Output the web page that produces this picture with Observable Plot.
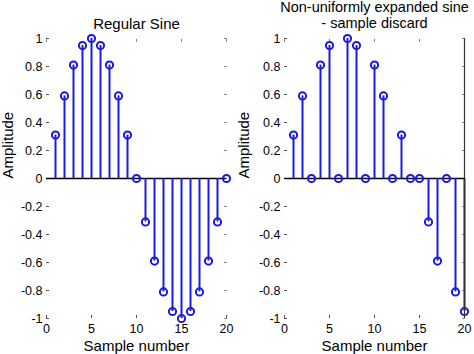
<!DOCTYPE html>
<html>
<head>
<meta charset="utf-8">
<script src="https://cdn.jsdelivr.net/npm/d3@7"></script>
<script src="https://cdn.jsdelivr.net/npm/@observablehq/plot@0.6"></script>
<style>
  html, body { margin: 0; padding: 0; background: #fff; }
  #wrap { position: relative; width: 474px; height: 354px; overflow: hidden; }
  #wrap > svg { position: absolute; top: 0; }
</style>
</head>
<body>
<div id="wrap"></div>
<script>
const sampleNumbers = [1,2,3,4,5,6,7,8,9,10,11,12,13,14,15,16,17,18,19,20];
const regularSine = [0.31,0.59,0.81,0.95,1,0.95,0.81,0.59,0.31,0,-0.31,-0.59,-0.81,-0.95,-1,-0.95,-0.81,-0.59,-0.31,0];
const expandedSine = [0.31,0.59,0,0.81,0.95,0,1,0.95,0,0.81,0.59,0,0.31,0,0,-0.31,-0.59,0,-0.81,-0.95];
const xTicks = [0,5,10,15,20];
const xTickLabels = ["0","5","10","15","20"];
const yTicks = [-1,-0.8,-0.6,-0.4,-0.2,0,0.2,0.4,0.6,0.8,1];
const yTickLabels = ["-1","-0.8","-0.6","-0.4","-0.2","0","0.2","0.4","0.6","0.8","1"];
const titles = ["Regular Sine", "Non-uniformly expanded sine\n- sample discard"];
const xLabel = "Sample number";
const yLabel = "Amplitude";

const blue = "#1a1ae0";

function panel(values, title, opts) {
  const data = sampleNumbers.map((n, i) => ({n, v: values[i]}));
  const marks = [
    Plot.axisY({anchor: "left", ticks: yTicks, tickSize: 0, tickPadding: 4,
      tickFormat: d => yTickLabels[yTicks.indexOf(d)], label: null, fontSize: 12.5}),
    Plot.axisY({anchor: "left", ticks: yTicks, tickSize: -3, tickFormat: () => "", label: null, stroke: "#555"}),
    Plot.axisY({anchor: "right", ticks: yTicks, tickSize: -3, tickFormat: () => "", label: null, stroke: "#888"}),
    Plot.axisX({anchor: "bottom", ticks: xTicks, tickSize: 0, tickPadding: 6,
      tickFormat: d => xTickLabels[xTicks.indexOf(d)], label: null, fontSize: 12.5}),
    Plot.axisX({anchor: "bottom", ticks: xTicks, tickSize: -3, tickFormat: () => "", label: null, stroke: "#555"}),
    Plot.axisX({anchor: "top", ticks: xTicks, tickSize: -3, tickFormat: () => "", label: null, stroke: "#888"}),
    Plot.ruleY([0], {stroke: "#000", strokeWidth: 1.5}),
    Plot.ruleX(data, {x: "n", y1: 0, y2: "v", stroke: blue, strokeWidth: 2}),
    Plot.dot(data, {x: "n", y: "v", r: 3.6, stroke: blue, strokeWidth: 2, fill: "none"}),
    Plot.text([title], {frameAnchor: "top", lineAnchor: "bottom", dy: opts.titleDy, fontSize: opts.titleSize, lineHeight: 1.08}),
    Plot.text([xLabel], {frameAnchor: "bottom", lineAnchor: "top", dy: 22, fontSize: 15}),
    Plot.text([yLabel], {frameAnchor: "left", rotate: -90, dx: opts.yLabelDx, fontSize: 15})
  ];
  if (opts.rightEdge) marks.push(Plot.ruleX([20], {stroke: "#333", strokeWidth: 1.2}));
  return Plot.plot({
    width: opts.width,
    height: 354,
    marginLeft: opts.marginLeft,
    marginRight: opts.marginRight,
    marginTop: 38,
    marginBottom: 36,
    style: {fontFamily: "'Liberation Sans', Arial, sans-serif", fontSize: "12px", color: "#000", background: "transparent", overflow: "visible"},
    x: {domain: [0, 20]},
    y: {domain: [-1, 1]},
    marks
  });
}

const wrap = document.getElementById("wrap");
const left = panel(regularSine, titles[0], {width: 236, marginLeft: 46, marginRight: 10, titleDy: -10, titleSize: 15, yLabelDx: -38, rightEdge: false});
left.style.left = "0px";
const right = panel(expandedSine, titles[1], {width: 238, marginLeft: 48, marginRight: 10, titleDy: -11, titleSize: 14.5, yLabelDx: -40, rightEdge: true});
right.style.left = "236px";
wrap.appendChild(left);
wrap.appendChild(right);
</script>
</body>
</html>
